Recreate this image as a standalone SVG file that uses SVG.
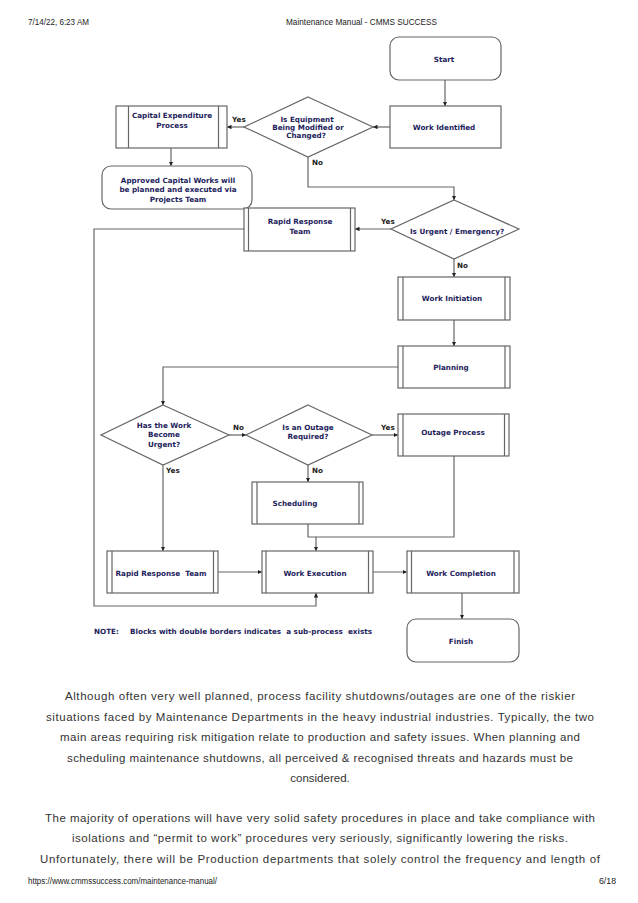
<svg xmlns="http://www.w3.org/2000/svg" width="638" height="903" viewBox="0 0 638 903">
<defs>
<marker id="arr" viewBox="0 0 10 10" refX="10" refY="5" markerWidth="4.5" markerHeight="4.5" orient="auto" markerUnits="userSpaceOnUse">
<path d="M0,0 L10,5 L0,10 z" fill="#222"/>
</marker>
<style>
.bx{fill:#fff;stroke:#666;stroke-width:1.2}
.in{stroke:#666;stroke-width:1.2;fill:none}
.ln{fill:none;stroke:#666;stroke-width:1.2}
.ar{fill:none;stroke:#666;stroke-width:1.2;marker-end:url(#arr)}
.t{font-family:"DejaVu Sans",Verdana,sans-serif;font-weight:bold;font-size:7.2px;fill:#1d1d5c;text-anchor:middle}
.lb{font-family:"DejaVu Sans",Verdana,sans-serif;font-weight:bold;font-size:7.2px;fill:#222}
.body{font-family:"Liberation Sans",Arial,sans-serif;font-size:11.5px;fill:#333;text-anchor:middle}
.hd{font-family:"Liberation Sans",Arial,sans-serif;font-size:8.5px;fill:#222}
</style>
</defs>
<rect width="638" height="903" fill="#fff"/>
<g id="header">
<text class="hd" x="28" y="25" textLength="61" lengthAdjust="spacingAndGlyphs">7/14/22, 6:23 AM</text>
<text class="hd" x="286" y="25" textLength="151" lengthAdjust="spacingAndGlyphs">Maintenance Manual - CMMS SUCCESS</text>
</g>
<g id="connectors">
<path class="ar" d="M445,80 V106"/>
<path class="ar" d="M390,127 H373"/>
<path class="ar" d="M244,127 H227"/>
<path class="ar" d="M171,148 V166"/>
<path class="ar" d="M308,157 V187 H454 V200"/>
<path class="ar" d="M391,229 H355"/>
<path class="ar" d="M454,259 V277"/>
<path class="ar" d="M454,320 V346"/>
<path class="ar" d="M398,367 H163 V405"/>
<path class="ar" d="M229,435 H246"/>
<path class="ar" d="M372,435 H398"/>
<path class="ar" d="M308,465 V482"/>
<path class="ar" d="M163,465 V551"/>
<path class="ln" d="M308,524 V537 H316"/>
<path class="ar" d="M454,456 V537 H316 V551"/>
<path class="ar" d="M244,229 H94 V606 H316 V593"/>
<path class="ar" d="M218,572 H262"/>
<path class="ar" d="M373,572 H407"/>
<path class="ar" d="M462,593 V619"/>
<text class="lb" x="232" y="122">Yes</text>
<text class="lb" x="312" y="165">No</text>
<text class="lb" x="381" y="223.5">Yes</text>
<text class="lb" x="457" y="267.5">No</text>
<text class="lb" x="233" y="430">No</text>
<text class="lb" x="381" y="430">Yes</text>
<text class="lb" x="166" y="472.5">Yes</text>
<text class="lb" x="312" y="472.5">No</text>
</g>
<g id="start">
<rect class="bx" x="390" y="37" width="111" height="43" rx="9"/>
<text class="t" x="444" y="61.5">Start</text>
</g>
<g id="work-identified">
<rect class="bx" x="390" y="106" width="111" height="42"/>
<text class="t" x="444" y="129.5">Work Identified</text>
</g>
<g id="is-equipment-modified">
<polygon class="bx" points="308,97 373,127 308,157 244,127"/>
<text class="t" x="307" y="121.5">Is Equipment</text>
<text class="t" x="308" y="130">Being Modified or</text>
<text class="t" x="306" y="138">Changed?</text>
</g>
<g id="capital-expenditure">
<rect class="bx" x="116" y="106" width="111" height="42"/>
<path class="in" d="M128.5,106 V148 M218.5,106 V148"/>
<text class="t" x="172" y="118">Capital Expenditure</text>
<text class="t" x="172" y="127.5">Process</text>
</g>
<g id="approved-capital-works">
<rect class="bx" x="102" y="166" width="150" height="43" rx="9"/>
<text class="t" x="178" y="182.5">Approved Capital Works will</text>
<text class="t" x="178" y="192">be planned and executed via</text>
<text class="t" x="178" y="201.5">Projects Team</text>
</g>
<g id="is-urgent">
<polygon class="bx" points="454,200 519,229 454,259 391,229"/>
<text class="t" x="457" y="234">Is Urgent / Emergency?</text>
</g>
<g id="rapid-response-top">
<rect class="bx" x="244" y="208" width="111" height="43"/>
<path class="in" d="M248.5,208 V251 M350.5,208 V251"/>
<text class="t" x="300" y="224">Rapid Response</text>
<text class="t" x="300" y="233.5">Team</text>
</g>
<g id="work-initiation">
<rect class="bx" x="398" y="277" width="112" height="43"/>
<path class="in" d="M403,277 V320 M505,277 V320"/>
<text class="t" x="452" y="301">Work Initiation</text>
</g>
<g id="planning">
<rect class="bx" x="398" y="346" width="112" height="42"/>
<path class="in" d="M403,346 V388 M505,346 V388"/>
<text class="t" x="451" y="370">Planning</text>
</g>
<g id="has-work-become-urgent">
<polygon class="bx" points="163,405 229,435 163,465 101,435"/>
<text class="t" x="164" y="428">Has the Work</text>
<text class="t" x="164" y="437">Become</text>
<text class="t" x="164" y="446.5">Urgent?</text>
</g>
<g id="is-outage-required">
<polygon class="bx" points="308,405 372,435 308,465 246,435"/>
<text class="t" x="308" y="430">Is an Outage</text>
<text class="t" x="308" y="438.5">Required?</text>
</g>
<g id="outage-process">
<rect class="bx" x="398" y="414" width="111" height="42"/>
<path class="in" d="M403,414 V456 M504.5,414 V456"/>
<text class="t" x="453" y="435">Outage Process</text>
</g>
<g id="scheduling">
<rect class="bx" x="252" y="482" width="111" height="42"/>
<path class="in" d="M257,482 V524 M359,482 V524"/>
<text class="t" x="295" y="506">Scheduling</text>
</g>
<g id="rapid-response-team">
<rect class="bx" x="107" y="551" width="111" height="42"/>
<path class="in" d="M112,551 V593 M213.5,551 V593"/>
<text class="t" x="161" y="575.5" xml:space="preserve">Rapid Response  Team</text>
</g>
<g id="work-execution">
<rect class="bx" x="262" y="551" width="111" height="42"/>
<path class="in" d="M266,551 V593 M368.5,551 V593"/>
<text class="t" x="315" y="575.5">Work Execution</text>
</g>
<g id="work-completion">
<rect class="bx" x="407" y="551" width="112" height="42"/>
<path class="in" d="M411.5,551 V593 M514,551 V593"/>
<text class="t" x="461" y="575.5">Work Completion</text>
</g>
<g id="finish">
<rect class="bx" x="407" y="619" width="112" height="43" rx="9"/>
<text class="t" x="461" y="643.5">Finish</text>
</g>
<g id="note">
<text class="lb" x="94" y="634" style="fill:#1d1d5c">NOTE:</text>
<text class="lb" x="130" y="634" style="fill:#1d1d5c" xml:space="preserve" textLength="242" lengthAdjust="spacing">Blocks with double borders indicates  a sub-process  exists</text>
</g>
<g id="body-text">
<text class="body" x="320" y="700" textLength="510" lengthAdjust="spacing">Although often very well planned, process facility shutdowns/outages are one of the riskier</text>
<text class="body" x="320" y="720.5" textLength="548" lengthAdjust="spacing">situations faced by Maintenance Departments in the heavy industrial industries. Typically, the two</text>
<text class="body" x="320" y="741" textLength="520" lengthAdjust="spacing">main areas requiring risk mitigation relate to production and safety issues. When planning and</text>
<text class="body" x="320" y="761.5" textLength="506" lengthAdjust="spacing">scheduling maintenance shutdowns, all perceived &amp; recognised threats and hazards must be</text>
<text class="body" x="320" y="782">considered.</text>
<text class="body" x="320" y="821.5" textLength="550" lengthAdjust="spacing">The majority of operations will have very solid safety procedures in place and take compliance with</text>
<text class="body" x="320" y="842" textLength="496" lengthAdjust="spacing">isolations and “permit to work” procedures very seriously, significantly lowering the risks.</text>
<text class="body" x="320" y="862.5" textLength="560" lengthAdjust="spacing">Unfortunately, there will be Production departments that solely control the frequency and length of</text>
</g>
<g id="footer">
<text class="hd" x="28" y="884" textLength="189" lengthAdjust="spacingAndGlyphs">https://www.cmmssuccess.com/maintenance-manual/</text>
<text class="hd" x="599" y="884" textLength="17" lengthAdjust="spacingAndGlyphs">6/18</text>
</g>
</svg>
